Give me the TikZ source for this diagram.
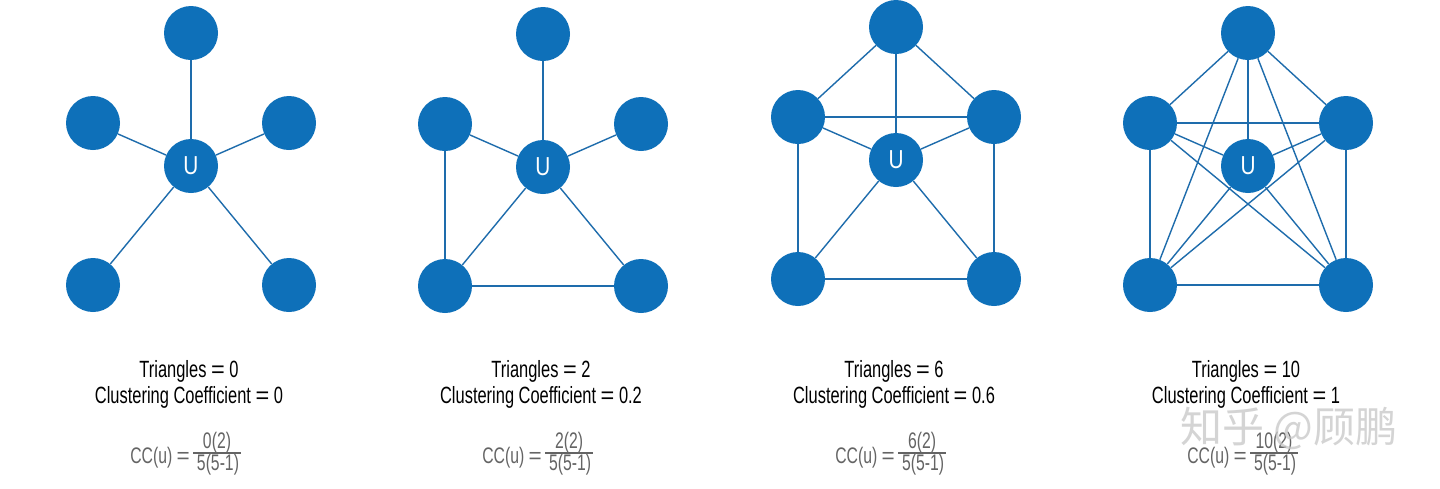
\documentclass[tikz,border=0pt]{standalone}
\usepackage{fontspec}
\setmainfont{Liberation Sans}
\newfontfamily\labfont[FakeStretch=0.7]{Liberation Sans}
\newfontfamily\ufont[FakeStretch=0.8]{Liberation Sans}
\newfontfamily\eqfont{Liberation Sans}
\newfontfamily\cjkfont{Noto Sans CJK SC}
\newcommand\eqs{{\eqfont=}}
\definecolor{nodeblue}{RGB}{14,112,185}
\definecolor{edgeblue}{RGB}{30,108,172}
\definecolor{fgray}{RGB}{100,100,100}
\newcommand\mknet[3]{%
  \node[vtx] (#1t) at (#2,33+#3) {};
  \node[vtx] (#1l) at (#2-98,123+#3) {};
  \node[vtx] (#1r) at (#2+98,123+#3) {};
  \node[vtx] (#1u) at (#2,166+#3) {U};
  \node[vtx] (#1a) at (#2-98,285+#3) {};
  \node[vtx] (#1b) at (#2+98,285+#3) {};
  \foreach \p in {t,l,r,a,b} {\draw[edge] (#1u) -- (#1\p);}
}
\newcommand\mklab[5]{%
  \node[lab] (#1tri) at (#2-2,377) {Triangles \eqs\ #3};
  \node[lab] (#1cc) at (#2-2,403) {Clustering Coefficient \eqs\ #4};
  \node[frm,anchor=base east] (#1lhs) at (#2-1,463) {CC(u) \eqs};
  \node[frm] (#1num) at (#2+26,448) {#5};
  \node[frm] (#1den) at (#2+27,470) {5(5-1)};
  \draw[fgray,line width=1.2pt] (#2+2,453) -- (#2+50,453);
}
\begin{document}
\begin{tikzpicture}[x=1pt,y=-1pt,
  vtx/.style={circle,fill=nodeblue,minimum size=54pt,inner sep=0pt,text=white,
    font=\ufont\fontsize{26}{26}\selectfont},
  edge/.style={draw=edgeblue,line width=1.4pt},
  lab/.style={font=\labfont\fontsize{23.5}{27}\selectfont,text=black,anchor=base,inner sep=0pt},
  frm/.style={font=\labfont\fontsize{22.5}{26}\selectfont,text=fgray,anchor=base,inner sep=0pt},
  ]
\useasboundingbox[fill=white] (0,0) rectangle (1440,488);
% graph 1
\mknet{g1}{191}{0}
% graph 2
\mknet{g2}{543}{1}
\draw[edge] (g2l) -- (g2a);
\draw[edge] (g2a) -- (g2b);
% graph 3
\mknet{g3}{896}{-6}
\foreach \p/\q in {t/l,t/r,l/r,l/a,r/b,a/b} {\draw[edge] (g3\p) -- (g3\q);}
% graph 4
\mknet{g4}{1248}{0}
\foreach \p/\q in {t/l,t/r,t/a,t/b,l/r,l/a,l/b,r/a,r/b,a/b} {\draw[edge] (g4\p) -- (g4\q);}
% labels
\mklab{c1}{191}{0}{0}{0(2)}
\mklab{c2}{543}{2}{0.2}{2(2)}
\mklab{c3}{896}{6}{0.6}{6(2)}
\mklab{c4}{1248}{10}{1}{10(2)}
% watermark
\node[font=\cjkfont\fontsize{42}{42}\selectfont,text=gray!45,opacity=0.75,inner sep=0pt] (wm) at (1289,428) {知乎 @顾鹏};
\end{tikzpicture}
\end{document}
